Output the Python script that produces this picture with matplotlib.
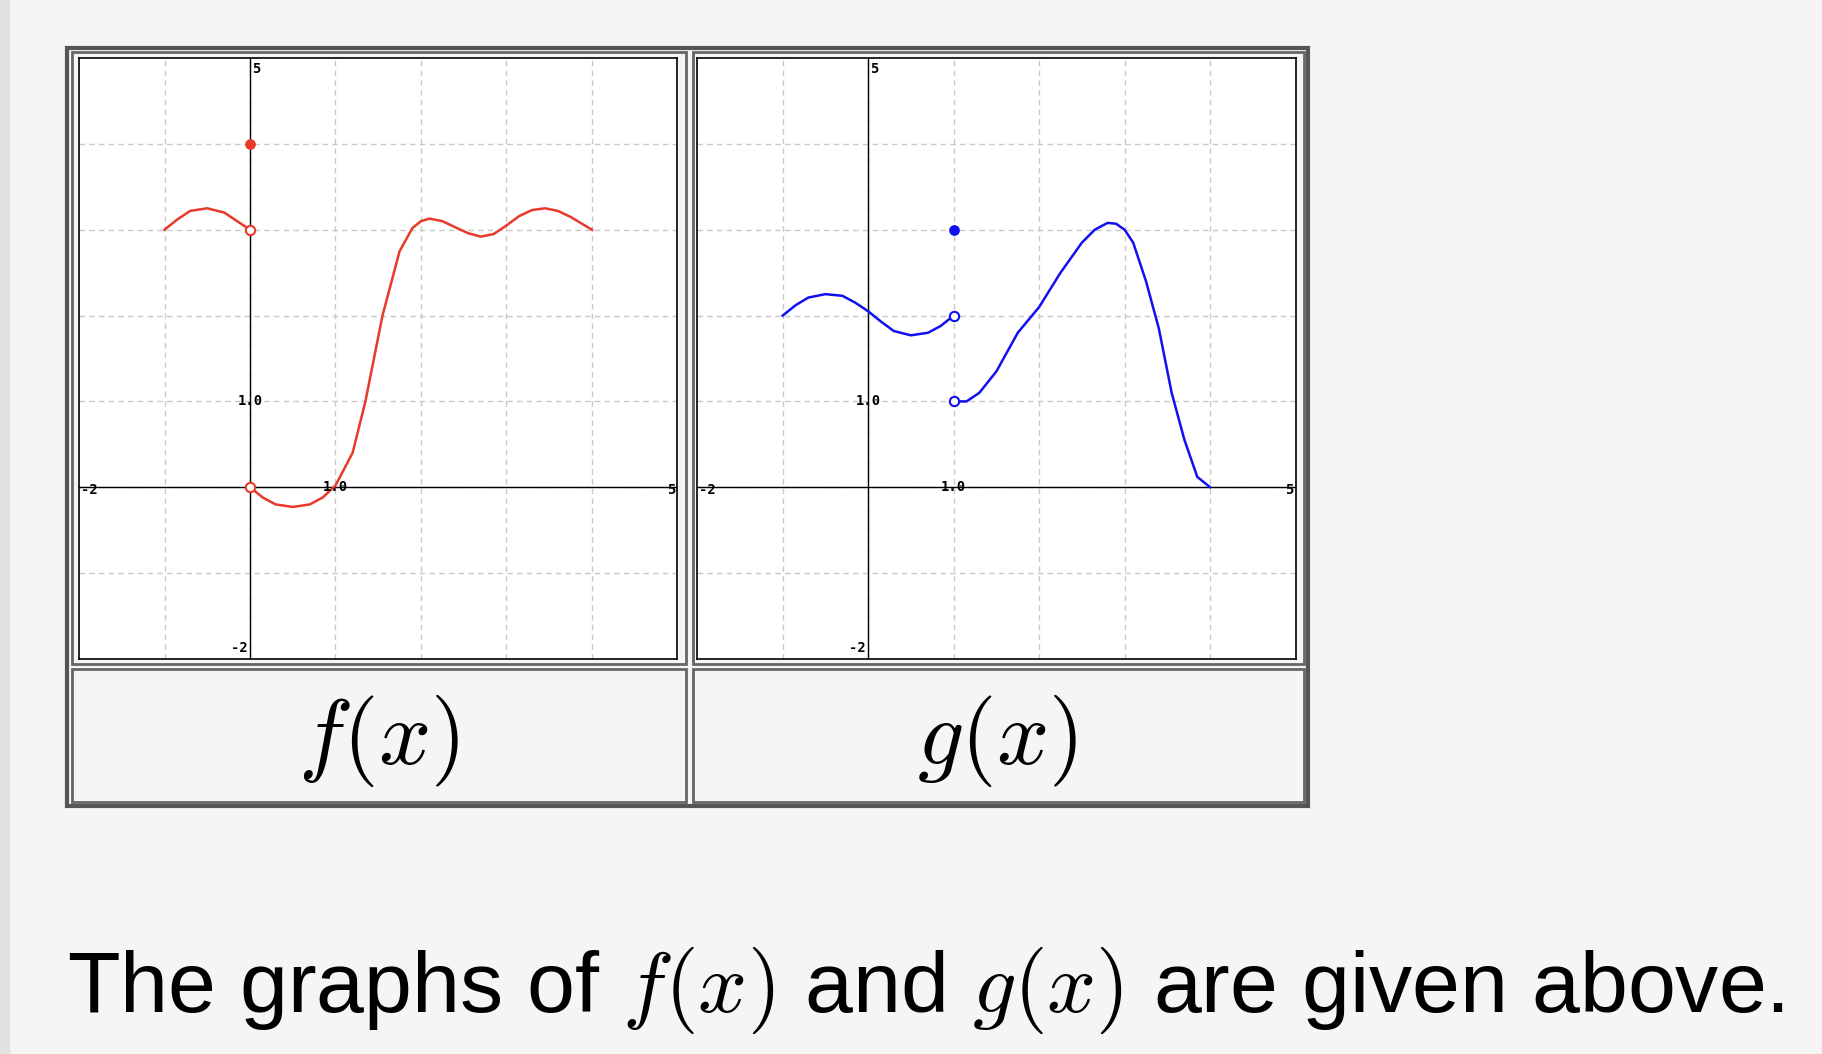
import matplotlib.pyplot as plt
from matplotlib.patches import Rectangle

# ---- data ----
f_left_x = [-1.0, -0.85, -0.7, -0.5, -0.3, -0.15, 0.0]
f_left_y = [3.0, 3.12, 3.22, 3.25, 3.2, 3.1, 3.0]
f_right_x = [0.0, 0.15, 0.3, 0.5, 0.7, 0.85, 1.0, 1.2, 1.35, 1.55, 1.75, 1.9, 2.0, 2.1, 2.25, 2.4, 2.55, 2.7, 2.85,
             3.0, 3.15, 3.3, 3.45, 3.6, 3.75, 3.9, 4.0]
f_right_y = [0.0, -0.12, -0.2, -0.23, -0.2, -0.12, 0.02, 0.4, 1.0, 2.0, 2.75, 3.02, 3.1, 3.13, 3.1, 3.03, 2.96, 2.92,
             2.95, 3.05, 3.16, 3.23, 3.25, 3.22, 3.15, 3.06, 3.0]
f_open = [(0, 3), (0, 0)]
f_closed = [(0, 4)]

g_left_x = [-1.0, -0.85, -0.7, -0.5, -0.3, -0.15, 0.0, 0.15, 0.3, 0.5, 0.7, 0.85, 1.0]
g_left_y = [2.0, 2.12, 2.21, 2.25, 2.23, 2.15, 2.05, 1.93, 1.82, 1.77, 1.8, 1.88, 2.0]
g_right_x = [1.0, 1.15, 1.3, 1.5, 1.75, 2.0, 2.25, 2.5, 2.65, 2.8, 2.9, 3.0, 3.1, 3.25, 3.4, 3.55, 3.7, 3.85, 4.0]
g_right_y = [1.0, 1.0, 1.1, 1.35, 1.8, 2.1, 2.5, 2.85, 3.0, 3.08, 3.07, 3.0, 2.85, 2.4, 1.85, 1.1, 0.55, 0.12, 0.0]
g_open = [(1, 2), (1, 1)]
g_closed = [(1, 3)]

RED = "#e8392b"
BLUE = "#1010f0"
BG = "#f5f5f5"
W, H = 1568.0, 907.0  # layout units of the reference

plt.rcParams['mathtext.fontset'] = 'cm'
fig = plt.figure(figsize=(18.22, 10.54), dpi=100, facecolor=BG)


def fx(px):
    return px / W


def fy(py):
    return 1 - py / H


def frame(x0, y0, x1, y1, lw, color):
    fig.patches.append(Rectangle((fx(x0), fy(y1)), fx(x1) - fx(x0), fy(y0) - fy(y1),
                                 transform=fig.transFigure, fill=False, lw=lw, ec=color))


# table borders
frame(58, 41, 1126, 694, 3, "#555555")
for (a, b, c, d) in [(62, 45, 590, 571), (596, 45, 1122, 571), (62, 576, 590, 690), (596, 576, 1122, 690)]:
    frame(a, b, c, d, 2, "#666666")


def panel(left, segs, opens, closes, color):
    ax = fig.add_axes([fx(left), fy(567), (515) / W, (517) / H])
    ax.set_facecolor("white")
    ax.set_xlim(-2, 5)
    ax.set_ylim(-2, 5)
    for v in range(-1, 5):
        ax.axvline(v, color="#c8c8c8", lw=1, ls=(0, (4, 3)), zorder=0)
        ax.axhline(v, color="#c8c8c8", lw=1, ls=(0, (4, 3)), zorder=0)
    ax.axhline(0, color="black", lw=1, zorder=1)
    ax.axvline(0, color="black", lw=1, zorder=1)
    for sx, sy in segs:
        ax.plot(sx, sy, color=color, lw=1.8, zorder=3)
    ax.scatter([p[0] for p in opens], [p[1] for p in opens], s=45, facecolor="white",
               edgecolor=color, lw=1.5, zorder=4)
    ax.scatter([p[0] for p in closes], [p[1] for p in closes], s=45, color=color, zorder=4)
    kw = dict(fontsize=10, family="DejaVu Sans Mono", fontweight="bold")
    ax.text(0.02, 4.95, "5", ha="left", va="top", **kw)
    ax.text(-0.03, -1.95, "-2", ha="right", va="bottom", **kw)
    ax.text(-1.98, -0.03, "-2", ha="left", va="center", **kw)
    ax.text(4.98, -0.03, "5", ha="right", va="center", **kw)
    ax.text(1.0, 0.0, "1.0", ha="center", va="center", **kw)
    ax.text(0.0, 1.0, "1.0", ha="center", va="center", **kw)
    ax.set_xticks([])
    ax.set_yticks([])
    for s in ax.spines.values():
        s.set_linewidth(1.2)
    return ax


panel(68, [(f_left_x, f_left_y), (f_right_x, f_right_y)], f_open, f_closed, RED)
panel(600, [(g_left_x, g_left_y), (g_right_x, g_right_y)], g_open, g_closed, BLUE)

fig.text(fx(326), fy(638), r"$f(x)$", fontsize=66, ha="center", va="center")
fig.text(fx(858), fy(638), r"$g(x)$", fontsize=66, ha="center", va="center")
fig.text(fx(58), fy(852), r"The graphs of $f(x)$ and $g(x)$ are given above.",
         fontsize=62, family="Liberation Sans", ha="left", va="center")

# left page edge
fig.patches.append(Rectangle((0, 0), fx(8), 1, transform=fig.transFigure, color="#e2e2e2"))

fig.savefig("out.png", dpi=100, facecolor=BG)
